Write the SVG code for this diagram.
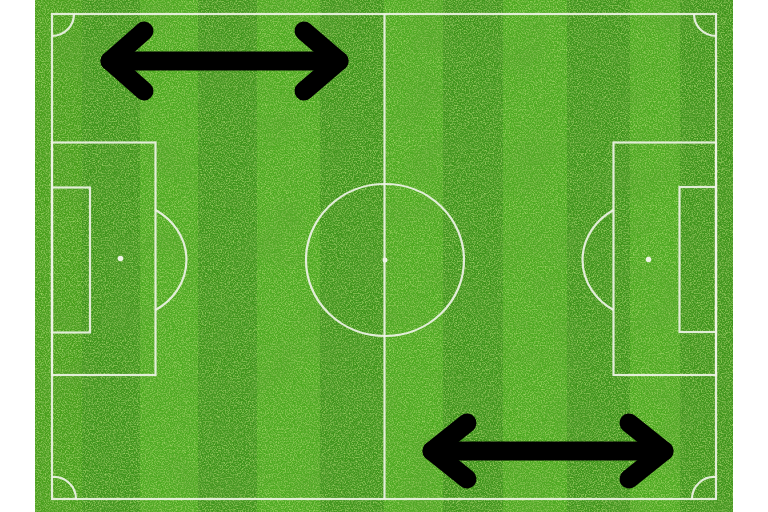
<svg xmlns="http://www.w3.org/2000/svg" width="768" height="512" viewBox="0 0 768 512">
  <defs>
    <filter id="grain" x="0" y="0" width="1" height="1" filterUnits="objectBoundingBox">
      <feTurbulence type="fractalNoise" baseFrequency="0.75" numOctaves="2" seed="7" result="n"/>
      <feColorMatrix in="n" type="matrix" values="0 0 0 0 0.42  0 0 0 0 0.76  0 0 0 0 0.16  1.8 0 0 0 -0.8" result="light"/>
      <feColorMatrix in="n" type="matrix" values="0 0 0 0 0.10  0 0 0 0 0.34  0 0 0 0 0.03  0 -1.8 0 0 0.62" result="dark"/>
      <feMerge result="m">
        <feMergeNode in="SourceGraphic"/>
        <feMergeNode in="dark"/>
        <feMergeNode in="light"/>
      </feMerge>
      <feComposite in="m" in2="SourceGraphic" operator="in"/>
    </filter>
    <filter id="blotch" x="0" y="0" width="1" height="1" filterUnits="objectBoundingBox">
      <feTurbulence type="fractalNoise" baseFrequency="0.02 0.03" numOctaves="2" seed="3" result="n"/>
      <feColorMatrix in="n" type="matrix" values="0 0 0 0 0.12  0 0 0 0 0.36  0 0 0 0 0.04  0 0 1.4 0 -0.6" result="d"/>
      <feComposite in="d" in2="SourceGraphic" operator="in"/>
    </filter>
  </defs>
  <style>
    .ln { fill: none; stroke: #eef3e6; stroke-width: 2.2; stroke-opacity: 0.92; }
    .spot { fill: #eef3e6; }
    .arr { fill: none; stroke: #000; stroke-width: 19; stroke-linecap: round; stroke-linejoin: round; }
    .lt { fill: #4fab20; }
    .dk { fill: #41961a; }
  </style>
  <rect width="768" height="512" fill="#ffffff"/>
  <g id="grass">
    <g filter="url(#grain)">
      <rect x="35" y="0" width="698" height="512" fill="#48a01d"/>
      <rect class="dk" x="82" y="0" width="58" height="512"/>
      <rect class="lt" x="140" y="0" width="58" height="512"/>
      <rect class="dk" x="198" y="0" width="59" height="512"/>
      <rect class="lt" x="257" y="0" width="63" height="512"/>
      <rect class="dk" x="320" y="0" width="64" height="512"/>
      <rect class="lt" x="384" y="0" width="59" height="512"/>
      <rect class="dk" x="443" y="0" width="60" height="512"/>
      <rect class="lt" x="503" y="0" width="64" height="512"/>
      <rect class="dk" x="567" y="0" width="63" height="512"/>
      <rect class="lt" x="630" y="0" width="50" height="512"/>
      <rect class="dk" x="680" y="0" width="53" height="512"/>
    </g>
    <rect x="35" y="0" width="698" height="512" fill="#000" filter="url(#blotch)" opacity="0.5"/>
  </g>
  <g id="pitch-lines">
    <rect class="ln" x="52" y="14" width="664" height="485"/>
    <line class="ln" x1="384.5" y1="14" x2="384.5" y2="499"/>
    <ellipse class="ln" cx="385" cy="260" rx="79" ry="76"/>
    <circle class="spot" cx="385" cy="260" r="2.5"/>
    <path class="ln" d="M74 14 A22 22 0 0 1 52 36"/>
    <path class="ln" d="M694 14 A22 22 0 0 0 716 36"/>
    <path class="ln" d="M52 477 A22 22 0 0 1 76 499"/>
    <path class="ln" d="M716 477 A22 22 0 0 0 692 499"/>
  </g>
  <g id="left-box">
    <rect class="ln" x="52" y="142.5" width="103.5" height="232.5"/>
    <rect class="ln" x="52" y="187.5" width="38" height="145"/>
    <circle class="spot" cx="120.5" cy="258.5" r="2.8"/>
    <path class="ln" d="M155.5 210 A66 59 0 0 1 155.5 310"/>
  </g>
  <g id="right-box">
    <rect class="ln" x="613.5" y="142.5" width="102.5" height="232.5"/>
    <rect class="ln" x="679.5" y="187" width="36.5" height="145"/>
    <circle class="spot" cx="648.5" cy="259.5" r="2.8"/>
    <path class="ln" d="M613.5 210 A66 59 0 0 0 613.5 310"/>
  </g>
  <g id="connectors">
    <g id="arrow-top">
      <line class="arr" x1="110" y1="61" x2="339" y2="61"/>
      <polyline class="arr" points="144,31 110,61 144,91"/>
      <polyline class="arr" points="304,31 339,61 304,91"/>
    </g>
    <g id="arrow-bottom">
      <line class="arr" x1="432" y1="451" x2="664" y2="451"/>
      <polyline class="arr" points="467,423 432,451 467,479"/>
      <polyline class="arr" points="629,423 664,451 629,479"/>
    </g>
  </g>
</svg>
